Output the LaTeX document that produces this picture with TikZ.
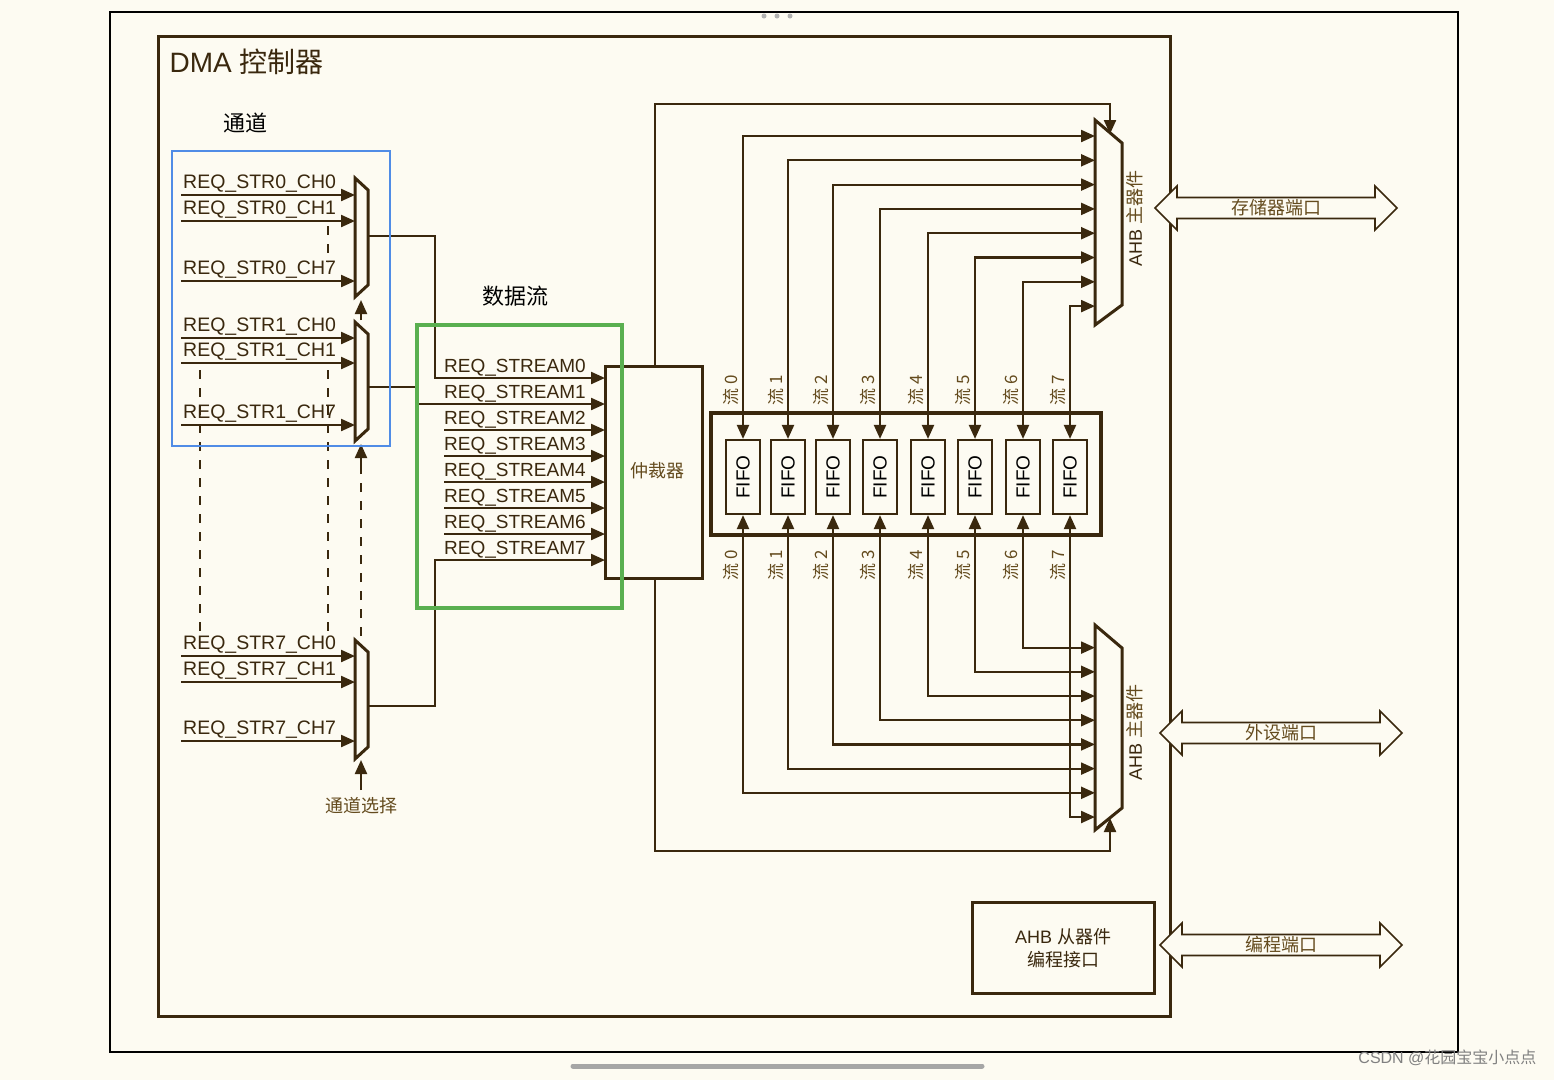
\documentclass[tikz,border=0pt]{standalone}
\usepackage{fontspec}
\setmainfont{Liberation Sans}
\newfontfamily\cjk{Noto Sans CJK SC}
\usetikzlibrary{arrows.meta,shapes.arrows}
\definecolor{bgc}{RGB}{253,251,242}
\definecolor{ln}{RGB}{58,40,14}
\definecolor{lbl}{RGB}{100,75,30}
\definecolor{blu}{RGB}{80,140,230}
\definecolor{grn}{RGB}{90,175,80}
\begin{document}
\begin{tikzpicture}[x=1pt,y=-1pt,
  wire/.style={draw=ln,line width=2.2pt},
  arr/.style={wire,-{Triangle[length=14pt,width=12pt]}},
  barr/.style={wire,{Triangle[length=14pt,width=12pt]}-{Triangle[length=14pt,width=12pt]}},
  dsh/.style={draw=ln,line width=2pt,dash pattern=on 9pt off 9pt},
  req/.style={anchor=south west,inner sep=0pt,font=\fontsize{19.5}{19.5}\selectfont,text=ln},
  cn/.style={font=\cjk\fontsize{18}{18}\selectfont,text=lbl,inner sep=0pt},
  fifo/.style={draw=ln,line width=2.2pt,minimum width=34pt,minimum height=74pt,inner sep=0pt},
  port/.style={double arrow,draw=ln,line width=1.6pt,fill=bgc,minimum width=44pt,minimum height=242pt,
    double arrow head extend=10pt,double arrow head indent=0pt,inner sep=0pt,font=\cjk\fontsize{18}{18}\selectfont,text=lbl}]
\useasboundingbox (0,0) rectangle (1554,1080);
\fill[bgc] (0,0) rectangle (1554,1080);
\draw[line width=1.3pt] (110,12) rectangle (1458,1052);
\fill[gray!60] (764,16) circle (2.5) (777,16) circle (2.5) (790,16) circle (2.5);
\draw[gray!70,line width=5pt,line cap=round] (573,1066) -- (982,1066);
\node[anchor=east,font=\fontsize{16}{16}\selectfont,text=gray] (wm) at (1540,1058) {CSDN @{\cjk 花园宝宝小点点}};
% controller box
\draw[ln,line width=3pt] (158,36) rectangle (1170,1016);
\node[anchor=west,font=\fontsize{28}{28}\selectfont,text=ln] (title) at (166,62) {DMA {\cjk 控制器}};
\node[font=\cjk\fontsize{22}{22}\selectfont] (tch) at (245,123) {通道};
\node[font=\cjk\fontsize{22}{22}\selectfont] (tst) at (515,296) {数据流};
% channel muxes
\foreach \n/\t/\ya/\yb/\yc/\yo in {0/178/195/221/281/236, 1/322/338/363/425/387, 7/640/656/682/741/706}{
  \draw[ln,line width=3pt] (355,\t) -- (368,\t+12) -- (368,\t+107) -- (355,\t+119) -- cycle;
  \coordinate (m\n o) at (368,\yo);
  \draw[arr] (181,\ya) -- (355,\ya);
  \draw[arr] (181,\yb) -- (355,\yb);
  \draw[arr] (181,\yc) -- (355,\yc);
  \node[req] at (183,\ya-2) {REQ\_STR\n\_CH0};
  \node[req] at (183,\yb-2) {REQ\_STR\n\_CH1};
  \node[req] at (183,\yc-2) {REQ\_STR\n\_CH7};
}
\draw[dsh] (328,226) -- (328,262);
\draw[dsh] (328,370) -- (328,636);
\draw[dsh] (200,370) -- (200,636);
\draw[arr] (361,320) -- (361,300);
\draw[dsh] (361,636) -- (361,470);
\draw[arr] (361,470) -- (361,444);
\node[cn] (sel) at (361,806) {通道选择};
\draw[arr] (361,790) -- (361,760);
% stream inputs
\draw[ln,line width=3pt] (605,366) rectangle (702,578);
\node[cn] (arb) at (657,471) {仲裁器};
\foreach \i/\y in {0/378,1/404,2/430,3/456,4/482,5/508,6/534,7/560}{
  \node[req,font=\fontsize{19}{19}\selectfont] at (444,\y-2) {REQ\_STREAM\i};
  \draw[arr] (444,\y) -- (605,\y);
}
\draw[wire] (m0o) -- (435,236) -- (435,378) -- (444,378);
\draw[wire] (m1o) -- (418,387) -- (418,404) -- (444,404);
\draw[wire] (m7o) -- (435,706) -- (435,560) -- (444,560);
\draw[blu,line width=2pt] (172,151) rectangle (390,446);
\draw[grn,line width=4pt] (417,325) rectangle (622,608);
% AHB master muxes
\draw[ln,line width=3pt] (1095,120) -- (1122,143) -- (1122,305) -- (1095,325) -- cycle;
\draw[ln,line width=3pt] (1095,625) -- (1122,648) -- (1122,808) -- (1095,830) -- cycle;
\node[rotate=90,font=\fontsize{18}{18}\selectfont,text=ln] (am) at (1135,218) {AHB {\cjk\color{lbl}主器件}};
\node[rotate=90,font=\fontsize{18}{18}\selectfont,text=ln] (as) at (1135,732) {AHB {\cjk\color{lbl}主器件}};
\draw[arr] (655,366) -- (655,104) -- (1110,104) -- (1110,134);
\draw[arr] (655,578) -- (655,851) -- (1110,851) -- (1110,818);
% FIFOs
\draw[ln,line width=3.5pt] (711,413) rectangle (1101,535);
\foreach \i/\x in {0/743,1/788,2/833,3/880,4/928,5/975,6/1023,7/1070}{
  \node[fifo] (f\i) at (\x,477) {\rotatebox{90}{\fontsize{19}{19}\selectfont FIFO}};
  \draw[barr] (1095,{136+24.3*\i}) -- (\x,{136+24.3*\i}) -- (f\i.north);
  \draw[barr] (1095,{817-24.2*mod(\i+1,8)}) -- (\x,{817-24.2*mod(\i+1,8)}) -- (f\i.south);
  \node[cn,rotate=90,font=\cjk\fontsize{17}{17}\selectfont] at (\x-12,390) {流 \i};
  \node[cn,rotate=90,font=\cjk\fontsize{17}{17}\selectfont] at (\x-12,565) {流 \i};
}
% ports
\node[port] (p1) at (1276,208) {存储器端口};
\node[port] (p2) at (1281,733) {外设端口};
\node[port] (p3) at (1281,945) {编程端口};
\node[draw=ln,line width=3pt,minimum width=182pt,minimum height=91pt,align=center,
  font=\fontsize{18}{23}\selectfont,text=ln] (slv) at (1063,948) {AHB {\cjk 从器件}\\{\cjk 编程接口}};
\end{tikzpicture}
\end{document}
